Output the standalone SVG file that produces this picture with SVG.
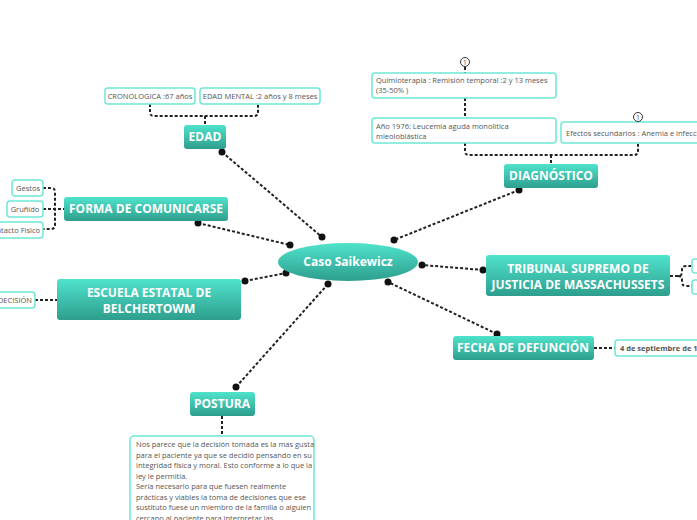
<svg xmlns="http://www.w3.org/2000/svg" width="697" height="520" viewBox="0 0 697 520">
<defs>
<linearGradient id="g" x1="0" y1="0" x2="0" y2="1"><stop offset="0" stop-color="#4fe3cb"/><stop offset="1" stop-color="#2e9e8e"/></linearGradient>
<style>
.n{fill:url(#g)}
.t{font-family:"Open Sans","Noto Sans",sans-serif;font-weight:bold;fill:#fff;text-anchor:middle;font-size:12px}
.b{fill:#fff;stroke:#6ee8d6;stroke-width:1.5}
.s{font-family:"Open Sans","Noto Sans",sans-serif;fill:#555;font-size:7.5px}
.c{fill:none;stroke:#222;stroke-width:2;stroke-dasharray:3,2}
.d{fill:#111}
</style>
</defs>
<rect width="697" height="520" fill="#fff"/>
<g id="connectors">
<path class="c" d="M222 152L322 237M198 223L290 245M245 281L286 273M236 387L328 284M519 190L394 240M483 270L422 265M497 334L388 282"/>
<path class="c" d="M150 104v8q0 4 4 4h100q4 0 4-4v-8M205 116v9"/>
<path class="c" d="M43 188h8q4 0 4 4v33q0 4-4 4h-8M43 209h21"/>
<path class="c" d="M35 300h22"/>
<path class="c" d="M222 416v20"/>
<path class="c" d="M465 98v20M465 143v8q0 4 4 4h165q4 0 4-4v-8M551 155v9M465 67v6M638 122v-2"/>
<path class="c" d="M670 276h8q4 0 4-4v-2q0-4 4-4h6M678 276q4 0 4 4v2q0 4 4 4h6"/>
<path class="c" d="M594 348h21"/>
<g class="d">
<circle cx="222" cy="152" r="3.5"/><circle cx="322" cy="237" r="3.5"/>
<circle cx="198" cy="223" r="3.5"/><circle cx="290" cy="245" r="3.5"/>
<circle cx="245" cy="281" r="3.5"/><circle cx="286" cy="273" r="3.5"/>
<circle cx="236" cy="387" r="3.5"/><circle cx="328" cy="284" r="3.5"/>
<circle cx="519" cy="190" r="3.5"/><circle cx="394" cy="240" r="3.5"/>
<circle cx="483" cy="270" r="3.5"/><circle cx="422" cy="265" r="3.5"/>
<circle cx="497" cy="334" r="3.5"/><circle cx="388" cy="282" r="3.5"/>
</g>
</g>
<g id="center"><ellipse class="n" cx="348" cy="262" rx="70" ry="19"/><text class="t" x="348" y="266">Caso Saikewicz</text></g>
<g id="edad"><rect class="n" x="184" y="125" width="42" height="24" rx="3"/><text class="t" x="205" y="141">EDAD</text>
<rect class="b" x="105" y="88" width="90" height="16" rx="3"/><text class="s" x="150" y="99" text-anchor="middle">CRONOLOGICA :67 años</text>
<rect class="b" x="200" y="88" width="120" height="16" rx="3"/><text class="s" x="260" y="99" text-anchor="middle">EDAD MENTAL  :2 años y 8 meses</text></g>
<g id="forma"><rect class="n" x="64" y="197" width="164" height="24" rx="3"/><text class="t" x="146" y="213">FORMA DE COMUNICARSE</text>
<rect class="b" x="12" y="180" width="31" height="16" rx="3"/><text class="s" x="28" y="191" text-anchor="middle">Gestos</text>
<rect class="b" x="7" y="201" width="36" height="16" rx="3"/><text class="s" x="25" y="212" text-anchor="middle">Gruñido</text>
<rect class="b" x="-10" y="222" width="53" height="16" rx="3"/><text class="s" x="40" y="233" text-anchor="end">Contacto Fisico</text></g>
<g id="escuela"><rect class="n" x="57" y="279" width="184" height="41" rx="3"/><text class="t" x="149" y="297">ESCUELA ESTATAL DE</text><text class="t" x="149" y="313">BELCHERTOWM</text>
<rect class="b" x="-10" y="292" width="45" height="16" rx="3"/><text class="s" x="32" y="303" text-anchor="end">DECISIÓN</text></g>
<g id="postura"><rect class="n" x="190" y="392" width="65" height="24" rx="3"/><text class="t" x="222" y="408">POSTURA</text>
<rect class="b" x="130" y="436" width="184" height="100" rx="4"/>
<text class="s" x="136" y="447"><tspan x="136">Nos parece que la decisión tomada es la mas gusta</tspan><tspan x="136" dy="10.5">para el paciente ya que se decidió pensando en su</tspan><tspan x="136" dy="10.5">integridad física y moral. Esto conforme a lo que la</tspan><tspan x="136" dy="10.5">ley le permitía.</tspan><tspan x="136" dy="10.5">Sería necesario para que fuesen realmente</tspan><tspan x="136" dy="10.5">prácticas y viables la toma de decisiones que ese</tspan><tspan x="136" dy="10.5">sustituto fuese un miembro de la familia o alguien</tspan><tspan x="136" dy="10.5">cercano al paciente para interpretar las</tspan></text></g>
<g id="diagnostico"><rect class="n" x="504" y="164" width="94" height="24" rx="3"/><text class="t" x="551" y="180">DIAGNÓSTICO</text>
<rect class="b" x="372" y="73" width="184" height="25" rx="3"/><text class="s" x="376" y="83"><tspan x="376">Quimioterapia : Remisión temporal :2 y 13 meses</tspan><tspan x="376" dy="10">(35-50% )</tspan></text>
<rect class="b" x="372" y="118" width="184" height="25" rx="3"/><text class="s" x="376" y="129"><tspan x="376">Año 1976: Leucemia aguda monolítica</tspan><tspan x="376" dy="10">mieoloblástica</tspan></text>
<rect class="b" x="561" y="122" width="150" height="21" rx="3"/><text class="s" x="566" y="136">Efectos secundarios : Anemia e infecciones</text>
<circle cx="465" cy="62" r="4.5" fill="#fff" stroke="#333"/><text class="s" x="465" y="64.5" text-anchor="middle" font-size="6">1</text>
<circle cx="638" cy="117" r="4.5" fill="#fff" stroke="#333"/><text class="s" x="638" y="119.5" text-anchor="middle" font-size="6">1</text></g>
<g id="tribunal"><rect class="n" x="486" y="255" width="184" height="41" rx="3"/><text class="t" x="578" y="273">TRIBUNAL SUPREMO DE</text><text class="t" x="578" y="289">JUSTICIA DE MASSACHUSSETS</text>
<rect class="b" x="692" y="259" width="20" height="14" rx="3"/><rect class="b" x="692" y="280" width="20" height="14" rx="3"/></g>
<g id="fecha"><rect class="n" x="453" y="336" width="141" height="24" rx="3"/><text class="t" x="523" y="352">FECHA DE DEFUNCIÓN</text>
<rect class="b" x="615" y="340" width="100" height="16" rx="3"/><text class="s" x="620" y="351" font-weight="bold" fill="#333">4 de septiembre de 1976</text></g>
</svg>
